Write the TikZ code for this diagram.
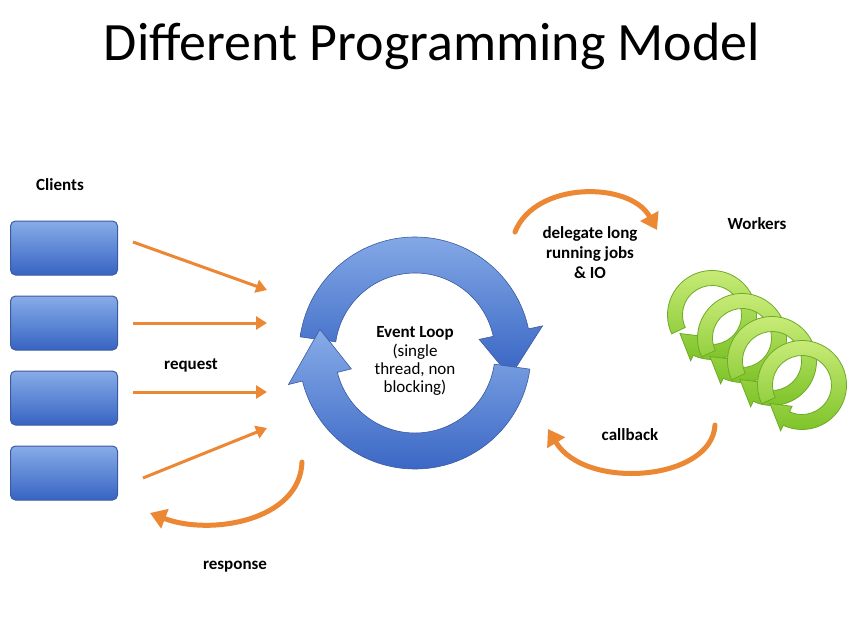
\documentclass[tikz,border=0pt]{standalone}
\usepackage{fontspec}
\setmainfont{Carlito}
\usetikzlibrary{arrows.meta}
\definecolor{org}{RGB}{236,135,52}
\definecolor{bl1}{RGB}{135,172,232}
\definecolor{bl2}{RGB}{55,100,195}
\definecolor{bld}{RGB}{60,90,160}
\definecolor{gr1}{RGB}{205,238,125}
\definecolor{gr2}{RGB}{125,195,40}
\definecolor{grd}{RGB}{110,170,40}
\newcommand\ringarrow[7]{%
\path[#7,shift={(#1)}] (#4:{#2+#3/2}) arc[start angle=#4,end angle=#5,radius={#2+#3/2}]
 -- (#5:{#2+#3/2+#3*0.4}) -- (#6:#2) -- (#5:{#2-#3/2-#3*0.4}) -- (#5:{#2-#3/2})
 arc[start angle=#5,end angle=#4,radius={#2-#3/2}] -- cycle;}
\begin{document}
\begin{tikzpicture}[x=1pt,y=1pt,
 client/.style={draw=bld,line width=1pt,rounded corners=5pt,top color=bl1,bottom color=bl2,minimum width=107pt,minimum height=54pt},
 lbl/.style={font=\fontsize{17}{20}\selectfont\bfseries,align=center},
 oarr/.style={org,line width=3pt,-{Triangle[length=11pt,width=13pt]}},
 carr/.style={org,line width=5pt,line cap=round,-{Triangle[length=16pt,width=20pt]}},
 bluering/.style={draw=bld,line width=0.6pt,top color=bl1,bottom color=bl2},
 greenring/.style={draw=grd,line width=0.8pt,top color=gr1,bottom color=gr2}]
\useasboundingbox (0,0) rectangle (866,641);
\fill[white] (0,0) rectangle (866,641);
\node[font=\fontsize{54}{60}\selectfont] (title) at (432,595) {Different Programming Model};
\node[lbl] (clients) at (60,456) {Clients};
\node[client] (c1) at (64,393) {};
\node[client] (c2) at (64,318) {};
\node[client] (c3) at (64,243) {};
\node[client] (c4) at (64,168) {};
\coordinate (s1) at (133,399); \coordinate (t1) at (267,351);
\coordinate (s2) at (133,318); \coordinate (t2) at (267,318);
\coordinate (s3) at (133,249); \coordinate (t3) at (267,249);
\coordinate (s4) at (143,163); \coordinate (t4) at (267,213);
\draw[oarr] (s1) -- (t1);
\draw[oarr] (s2) -- (t2);
\draw[oarr] (s3) -- (t3);
\draw[oarr] (s4) -- (t4);
\node[lbl] (req) at (191,276) {request};
% event loop
\coordinate (ev) at (415,288);
\ringarrow{ev}{98}{36}{172}{12}{-14}{bluering}
\ringarrow{ev}{98}{36}{-8}{-166}{-194}{bluering}
\node[lbl] (evt) at (415,280) {Event Loop\\[-1pt]\mdseries(single\\[-2pt]\mdseries thread, non\\[-2pt]\mdseries blocking)};
% response
\coordinate (rs) at (302,179); \coordinate (re) at (150,128);
\draw[carr] (rs) .. controls (300,120) and (210,105) .. (re);
\node[lbl] (resp) at (235,74) {response};
% delegate
\coordinate (ds) at (515,409); \coordinate (de) at (657,411);
\draw[carr] (ds) .. controls (535,460) and (630,460) .. (de);
\node[lbl] (del) at (590,388) {delegate long\\running jobs\\\& IO};
\node[lbl] (work) at (757,417) {Workers};
% workers
\foreach \cx/\cy [count=\i] in {712/326,742/303,772/280,802/256}{
 \coordinate (w\i) at (\cx,\cy);
 \ringarrow{w\i}{37}{15}{205}{-115}{-150}{greenring}
}
% callback
\coordinate (cs) at (715,216); \coordinate (ce) at (548,212);
\draw[carr] (cs) .. controls (712,160) and (585,150) .. (ce);
\node[lbl] (cb) at (630,206) {callback};
\end{tikzpicture}
\end{document}
